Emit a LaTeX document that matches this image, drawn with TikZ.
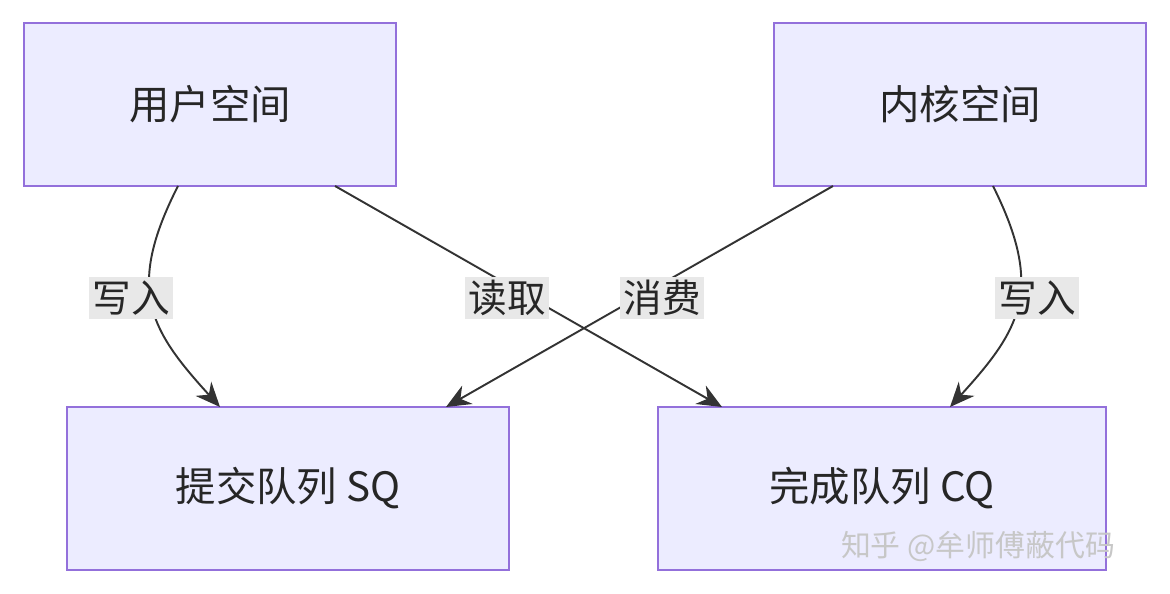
\documentclass[tikz,border=0pt]{standalone}
\usepackage{fontspec}
\newfontfamily\cjk{Noto Sans CJK SC}
\usetikzlibrary{arrows.meta}
\definecolor{boxfill}{HTML}{ECECFF}
\definecolor{boxline}{HTML}{9370DB}
\definecolor{edge}{HTML}{333333}
\definecolor{lblbg}{HTML}{E8E8E8}
\begin{document}
\begin{tikzpicture}[x=0.02cm,y=-0.02cm,
  box/.style={draw=boxline,fill=boxfill,line width=1.3pt,minimum width=#1*0.02cm,minimum height=163*0.02cm,inner sep=0pt,font=\cjk\fontsize{23}{26}\selectfont,text=black!85},
  lbl/.style={fill=lblbg,inner sep=2pt,font=\cjk\fontsize{22}{26}\selectfont,text=black!85},
  conn/.style={draw=edge,line width=1.1pt,-{Stealth[length=14pt,width=12pt]}}]
\useasboundingbox (0,0) rectangle (1170,594);
\node[box=372] (u) at (210,104.5) {用户空间};
\node[box=372] (k) at (960,104.5) {内核空间};
\node[box=442] (sq) at (288,488.5) {提交队列 SQ};
\node[box=448] (cq) at (882,488.5) {完成队列 CQ};
\coordinate (u1) at (178,186); \coordinate (sq1) at (220,407);
\coordinate (k1) at (993,186); \coordinate (cq1) at (950,407);
\draw[conn] (u1) .. controls (125,290) and (150,330) .. (sq1);
\draw[conn] (335,186) -- (722,407);
\draw[conn] (833,186) -- (446,407);
\draw[conn] (k1) .. controls (1045,290) and (1020,330) .. (cq1);
\node[lbl] (l1) at (131,298) {写入};
\node[lbl] (l2) at (507,298) {读取};
\node[lbl] (l3) at (662,298) {消费};
\node[lbl] (l4) at (1037,298) {写入};
\node[font=\cjk\fontsize{17}{20}\selectfont,text=black!22] (wm) at (978,546) {知乎 @牟师傅蔽代码};
\end{tikzpicture}
\end{document}
